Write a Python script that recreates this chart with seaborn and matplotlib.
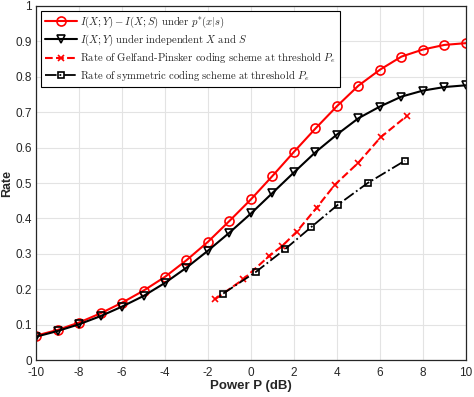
import matplotlib
matplotlib.use("Agg")
import matplotlib.pyplot as plt
import seaborn as sns
import pandas as pd

# puissance en dB
p_db = [-10, -9, -8, -7, -6, -5, -4, -3, -2, -1, 0, 1, 2, 3, 4, 5, 6, 7, 8, 9, 10]
rate_opt = [0.069, 0.085, 0.106, 0.132, 0.162, 0.196, 0.235, 0.282, 0.334, 0.393, 0.454,
            0.520, 0.588, 0.654, 0.717, 0.775, 0.820, 0.857, 0.877, 0.890, 0.895]
rate_indep = [0.066, 0.082, 0.101, 0.124, 0.151, 0.181, 0.218, 0.261, 0.309, 0.360, 0.414,
              0.472, 0.530, 0.587, 0.637, 0.683, 0.716, 0.744, 0.761, 0.771, 0.776]

# schemas de codage au seuil Pe
gp_p = [-1.67, -0.36, 0.85, 1.45, 2.12, 3.05, 3.9, 4.99, 6.03, 7.24]
gp_rate = [0.172, 0.228, 0.294, 0.322, 0.362, 0.430, 0.495, 0.557, 0.629, 0.689]
sym_p = [-1.29, 0.23, 1.58, 2.79, 4.03, 5.43, 7.16]
sym_rate = [0.188, 0.249, 0.313, 0.375, 0.438, 0.500, 0.563]

labels = [r"$I(X;Y) - I(X;S)\ \mathrm{under}\ p^{*}(x|s)$",
          r"$I(X;Y)\ \mathrm{under\ independent}\ X\ \mathrm{and}\ S$",
          r"$\mathrm{Rate\ of\ Gelfand\text{-}Pinsker\ coding\ scheme\ at\ threshold}\ P_e$",
          r"$\mathrm{Rate\ of\ symmetric\ coding\ scheme\ at\ threshold}\ P_e$"]

sns.set_style("whitegrid")
plt.rcParams["font.family"] = ["Liberation Sans", "DejaVu Sans"]
plt.rcParams["mathtext.fontset"] = "cm"
plt.rcParams["axes.unicode_minus"] = False

fig, ax = plt.subplots(figsize=(4.74, 3.97), dpi=100)
fig.subplots_adjust(left=0.076, right=0.983, bottom=0.093, top=0.985)

df1 = pd.DataFrame({"p": p_db, "r": rate_opt})
df2 = pd.DataFrame({"p": p_db, "r": rate_indep})
df3 = pd.DataFrame({"p": gp_p, "r": gp_rate})
df4 = pd.DataFrame({"p": sym_p, "r": sym_rate})

sns.lineplot(data=df1, x="p", y="r", ax=ax, color="red", lw=1.5, marker="o", ms=6.5,
             markerfacecolor="none", markeredgecolor="red", mew=1.2, label=labels[0])
sns.lineplot(data=df2, x="p", y="r", ax=ax, color="black", lw=1.5, marker="v", ms=5.5,
             markerfacecolor="none", markeredgecolor="black", mew=1.2, label=labels[1])
sns.lineplot(data=df3, x="p", y="r", ax=ax, color="red", lw=1.5, ls="--", marker="x", ms=5,
             markeredgecolor="red", mew=1.2, label=labels[2])
sns.lineplot(data=df4, x="p", y="r", ax=ax, color="black", lw=1.3, ls="-.", marker="s", ms=4.5,
             markerfacecolor="none", markeredgecolor="black", mew=1.2, label=labels[3])

ax.set_xlim(-10, 10)
ax.set_ylim(0, 1)
ax.set_xticks(range(-10, 11, 2))
ax.set_yticks([i / 10 for i in range(11)])
ax.set_yticklabels(["0", "0.1", "0.2", "0.3", "0.4", "0.5", "0.6", "0.7", "0.8", "0.9", "1"])
ax.tick_params(direction="in", length=3, labelsize=8.5, colors="#262626", pad=3)
ax.tick_params(axis="x", pad=5)
ax.grid(True, color="#e3e3e3", lw=0.8)
for s in ax.spines.values():
    s.set_color("#262626")
    s.set_linewidth(0.9)

ax.set_xlabel("Power P (dB)", fontsize=9.5, fontweight="bold", labelpad=1)
ax.set_ylabel("Rate", fontsize=9, fontweight="bold")
ax.yaxis.set_label_coords(-0.054, 0.5)

leg = ax.legend(loc="upper left", fontsize=7.7, frameon=True, fancybox=False,
                edgecolor="black", framealpha=1, handlelength=3.0, handletextpad=0.3,
                labelspacing=0.22, borderpad=0.35, borderaxespad=0.5)
leg.get_frame().set_linewidth(0.8)

fig.savefig("out.png", dpi=100)
